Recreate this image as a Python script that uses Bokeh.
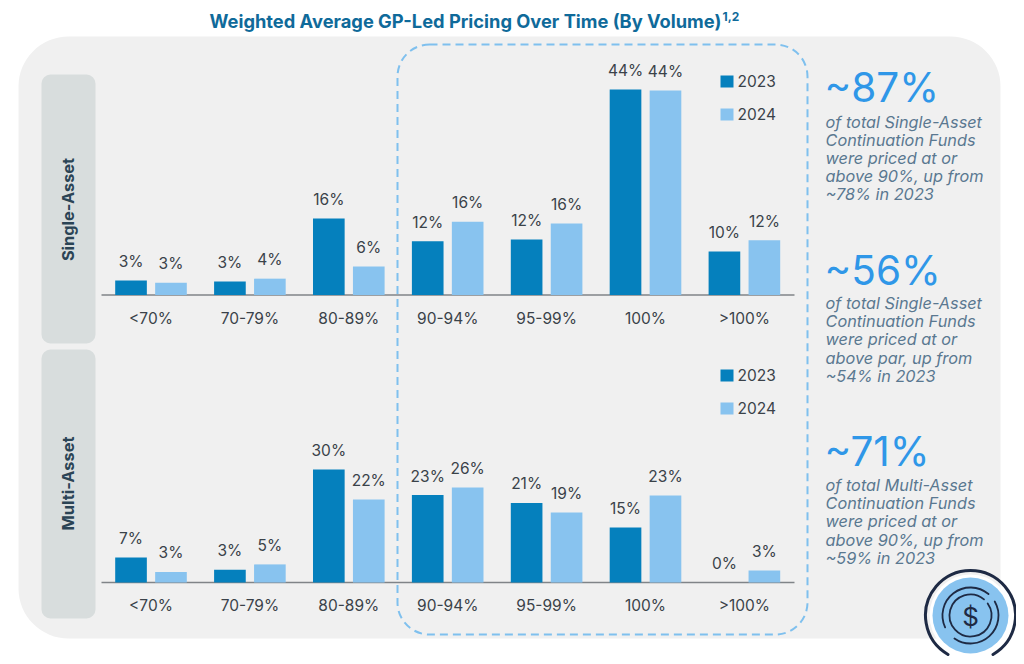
from math import pi
from bokeh.plotting import figure
from bokeh.models import Range1d, ColumnDataSource
from bokeh.core.properties import value
from bokeh.embed import file_html
from bokeh.resources import INLINE

categories = ["<70%", "70-79%", "80-89%", "90-94%", "95-99%", "100%", ">100%"]
single_2023 = [3.1, 2.9, 16.4, 11.5, 11.9, 44.0, 9.3]
single_2024 = [2.6, 3.5, 6.1, 15.7, 15.3, 43.8, 11.7]
multi_2023 = [6.6, 3.4, 30.0, 23.2, 21.1, 14.6, 0.0]
multi_2024 = [2.8, 4.8, 22.0, 25.2, 18.6, 23.1, 3.2]
single_2023_labels = ["3%", "3%", "16%", "12%", "12%", "44%", "10%"]
single_2024_labels = ["3%", "4%", "6%", "16%", "16%", "44%", "12%"]
multi_2023_labels = ["7%", "3%", "30%", "23%", "21%", "15%", "0%"]
multi_2024_labels = ["3%", "5%", "22%", "26%", "19%", "23%", "3%"]
series_names = ["2023", "2024"]
callouts = [
    ("~87%", ["of total Single-Asset", "Continuation Funds", "were priced at or", "above 90%, up from", "~78% in 2023"]),
    ("~56%", ["of total Single-Asset", "Continuation Funds", "were priced at or", "above par, up from", "~54% in 2023"]),
    ("~71%", ["of total Multi-Asset", "Continuation Funds", "were priced at or", "above 90%, up from", "~59% in 2023"]),
]

DARK, LIGHT = "#0580bd", "#88c3ef"
FONT = value("Inter")
L, R, T, B = 0, 1016, 0, 656

p = figure(width=R - L, height=B - T, output_backend="svg", toolbar_location=None,
           x_range=Range1d(L, R), y_range=Range1d(B, T), min_border=0,
           x_axis_type=None, y_axis_type=None, outline_line_color=None)
p.grid.visible = False
p.background_fill_color = "white"
p.border_fill_color = "white"

# category scale: group centre 0 at px 150.5, spacing 98.9 px
X0, DX = 150.5, 98.9
p.extra_x_ranges["cat"] = Range1d((L - X0) / DX, (R - X0) / DX)
# value scales: one for each panel
def yrange(base, k):
    return Range1d((base - B) / k, (base - T) / k)
p.extra_y_ranges["single"] = yrange(294.5, 4.67)
p.extra_y_ranges["multi"] = yrange(582.0, 3.77)

# backgrounds
p.quad(left=18, right=1000, top=36, bottom=638, fill_color="#f0f0f0", line_color=None, border_radius=50)
for top, bottom in [(74, 343), (349, 618)]:
    p.quad(left=41, right=95, top=top, bottom=bottom, fill_color="#d8dddd", line_color=None, border_radius=9)
p.quad(left=397, right=807, top=44, bottom=634, fill_color=None, line_color="#7fc0ee",
       line_width=2, line_dash="8 5", border_radius=32)

# title
p.text(x=[209], y=[20], text=["Weighted Average GP-Led Pricing Over Time (By Volume)"], text_font=FONT,
       text_font_style="bold", text_font_size="18.3px", text_color="#0f6a9a", text_baseline="alphabetic")
p.text(x=[722], y=[16], text=["1,2"], text_font=FONT, text_font_style="bold", text_font_size="12px",
       text_color="#0f6a9a", text_baseline="alphabetic")

idx = list(range(len(categories)))
for rng, base, v23, v24, l23, l24 in [
    ("single", 294.5, single_2023, single_2024, single_2023_labels, single_2024_labels),
    ("multi", 582.0, multi_2023, multi_2024, multi_2023_labels, multi_2024_labels),
]:
    p.segment(x0=[101], x1=[794], y0=[base], y1=[base], line_color="#808488", line_width=1.5)
    for off, vals, labs, col in [(-0.202, v23, l23, DARK), (0.202, v24, l24, LIGHT)]:
        xs = [i + off for i in idx]
        src = ColumnDataSource(dict(x=xs, v=vals, t=labs))
        p.vbar(x="x", top="v", bottom=0, width=0.32, source=src, fill_color=col, line_color=None,
               x_range_name="cat", y_range_name=rng)
        p.text(x="x", y="v", text="t", source=src, x_range_name="cat", y_range_name=rng,
               text_font=FONT, text_font_size="15.5px", text_color="#3a4249", text_align="center",
               text_baseline="alphabetic", y_offset=-19)
    p.text(x=idx, y=[0] * 7, text=categories, x_range_name="cat", y_range_name=rng,
           text_font=FONT, text_font_size="15.5px", text_color="#3a4249", text_align="center",
           text_baseline="alphabetic", y_offset=23)

# side labels
for y, t in [(209, "Single-Asset"), (483, "Multi-Asset")]:
    p.text(x=[67], y=[y], text=[t], angle=pi / 2, text_font=FONT, text_font_style="bold", text_font_size="16.4px",
           text_color="#2b4455", text_align="center", text_baseline="middle")

# legends
for ys in [(81, 114), (375, 408)]:
    for y, name, col in zip(ys, series_names, [DARK, LIGHT]):
        p.quad(left=720, right=733, top=y - 6, bottom=y + 6, fill_color=col, line_color=None)
        p.text(x=[737], y=[y - 1], text=[name], text_font=FONT, text_font_size="15.5px", text_color="#3a4249",
               text_baseline="middle")

# callouts
for (big, lines), yb, y1 in zip(callouts, [87, 270, 451], [121, 302.5, 484.5]):
    p.text(x=[824], y=[yb], text=[big], text_font=FONT, text_font_size="40.5px", text_color="#2f97e8",
           text_baseline="alphabetic")
    for i, line in enumerate(lines):
        p.text(x=[825], y=[y1 + i * 18.2], text=[line], text_font=FONT, text_font_style="italic",
               text_font_size="16.3px", text_color="#5a7890", text_baseline="alphabetic")

# icon
cx, cy = 970, 615
NAVY = "#1e2a44"
p.circle(x=[cx], y=[cy], radius=41, fill_color="white", line_color=None)
p.circle(x=[cx], y=[cy], radius=38, fill_color=LIGHT, line_color=None)
def arc(r, a0, a1, w):
    p.arc(x=[cx], y=[cy], radius=r, start_angle=a0 * pi / 180, end_angle=a1 * pi / 180,
          direction="anticlock", line_color=NAVY, line_width=w, line_cap="round")
arc(45, 300, 240, 3)
arc(28, 50, 205, 1.8)
arc(28, 235, 30, 1.8)
arc(21, 50, 35, 1.8)
p.text(x=[cx], y=[cy + 1], text=["$"], text_font=FONT, text_font_size="26px",
       text_color=NAVY, text_align="center", text_baseline="middle")

open("out.html", "w").write(file_html(p, INLINE))
